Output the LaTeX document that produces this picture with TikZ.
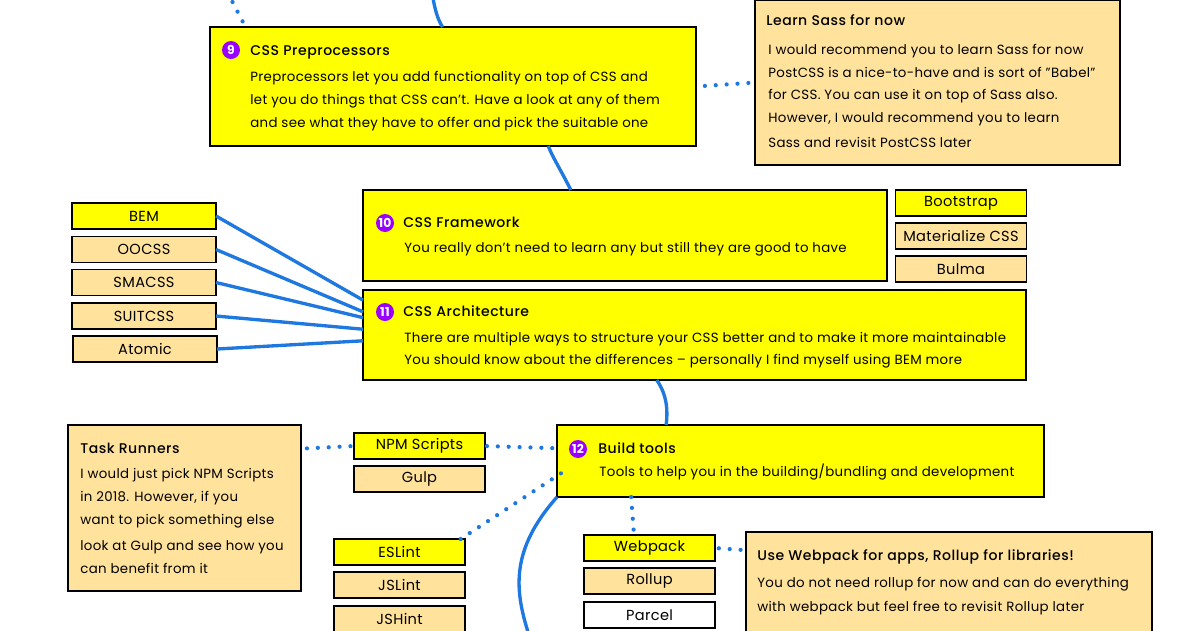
\documentclass[tikz,border=0pt]{standalone}
\usepackage{fontspec}
\setmainfont{Poppins}[LetterSpace=2.4, Ligatures=ResetAll]
\newfontfamily\headfont{Poppins Medium}[LetterSpace=3.6, Ligatures=ResetAll]
\definecolor{boxyellow}{RGB}{255,255,0}
\definecolor{notetan}{HTML}{FFE29B}
\definecolor{linkblue}{HTML}{1F78E0}
\definecolor{badgepurple}{HTML}{9900FF}
\tikzset{
	box/.style={draw=black, line width=1.1pt, inner sep=0pt, outer sep=0pt, fill=#1},
	item/.style={box=#1, minimum width=2.62cm, minimum height=0.52cm, font=\fontsize{8.3}{9}\selectfont},
	badge/.style={circle, fill=badgepurple, text=white, inner sep=0pt, minimum size=0.36cm, font=\fontsize{7}{7}\selectfont\bfseries},
	heading/.style={anchor=base west, inner sep=0pt, font=\headfont\fontsize{8}{9}\selectfont},
	body/.style={anchor=base west, inner sep=0pt, font=\fontsize{7.6}{9}\selectfont},
	link/.style={draw=linkblue, line width=1.9pt},
	dotlink/.style={draw=linkblue, line width=2.4pt, line cap=round, dash pattern=on 0pt off 6.2pt},
}
\begin{document}
\begin{tikzpicture}[x=0.02cm, y=-0.02cm]
	\clip (0,0) rectangle (1200,630);

	% main boxes
	\node[box=boxyellow, minimum width=9.72cm, minimum height=2.38cm] (prep) at (453,86.5) {};
	\node[box=boxyellow, minimum width=10.48cm, minimum height=1.82cm] (frame) at (625,235.5) {};
	\node[box=boxyellow, minimum width=13.26cm, minimum height=1.8cm] (arch) at (694.5,335) {};
	\node[box=boxyellow, minimum width=9.74cm, minimum height=1.44cm] (build) at (800.5,461) {};

	% notes
	\node[box=notetan, minimum width=7.3cm, minimum height=3.3cm] (sass) at (937.5,82.5) {};
	\node[box=notetan, minimum width=4.66cm, minimum height=3.32cm] (runners) at (184.5,508) {};
	\node[box=notetan, minimum width=8.12cm, minimum height=2.16cm] (usewebpack) at (949,586) {};

	% small items
	\foreach \name/\cx/\cy/\col/\txt in {
		bootstrap/961/203/boxyellow/Bootstrap, materialize/961/236/notetan/Materialize CSS, bulma/961/269/notetan/Bulma,
		npm/419.5/446/boxyellow/NPM Scripts, gulp/419.5/479/notetan/Gulp,
		eslint/399.5/552/boxyellow/ESLint, jslint/399.5/585/notetan/JSLint, jshint/399.5/619/notetan/JSHint,
		webpack/649.5/548/boxyellow/Webpack, rollup/649.5/581/notetan/Rollup, parcel/649.5/615/white/Parcel
	} {
		\node[item=\col] (\name) at (\cx,\cy) {\txt};
	}
	\foreach \name/\cx/\cy/\col/\txt in {
		bem/144/216/boxyellow/BEM, oocss/144/249.5/notetan/OOCSS, smacss/144/282.5/notetan/SMACSS,
		suitcss/144/316/notetan/SUITCSS, atomic/145/349/notetan/Atomic
	} {
		\node[item=\col, minimum width=2.88cm] (\name) at (\cx,\cy) {\txt};
	}

	% badges
	\node[badge] (nine) at (231,50) {9};
	\node[badge] (ten) at (385,223) {10};
	\node[badge] (eleven) at (385,312) {11};
	\node[badge] (twelve) at (578,449) {12};

	% headings
	\node[heading] (prephead) at (250,55) {CSS Preprocessors};
	\node[heading] (framehead) at (403,227) {CSS Framework};
	\node[heading] (archhead) at (403,316) {CSS Architecture};
	\node[heading] (buildhead) at (598,453) {Build tools};
	\node[heading] (sasshead) at (766,25) {Learn Sass for now};
	\node[heading] (runnershead) at (80,453) {Task Runners};
	\node[heading] (webpackhead) at (757,560) {Use Webpack for apps, Rollup for libraries!};

	% body lines
	\foreach \y/\txt [count=\i] in {
		81/Preprocessors let you add functionality on top of CSS and,
		104/let you do things that CSS can't. Have a look at any of them,
		127/and see what they have to offer and pick the suitable one
	} {
		\node[body] (prepline\i) at (250,\y) {\txt};
	}
	\node[body] (frameline) at (404,252) {You really don't need to learn any but still they are good to have};
	\node[body] (archlinea) at (404,342) {There are multiple ways to structure your CSS better and to make it more maintainable};
	\node[body] (archlineb) at (404,364) {You should know about the differences – personally I find myself using BEM more};
	\node[body] (buildline) at (599,476) {Tools to help you in the building/bundling and development};
	\foreach \y/\txt [count=\i] in {
		54/I would recommend you to learn Sass for now,
		77/PostCSS is a nice-to-have and is sort of "Babel",
		99/{for CSS. You can use it on top of Sass also.},
		122/{However, I would recommend you to learn},
		147/Sass and revisit PostCSS later
	} {
		\node[body] (sassline\i) at (768,\y) {\txt};
	}
	\foreach \y/\txt [count=\i] in {
		478/I would just pick NPM Scripts,
		501/{in 2018. However, if you},
		524/want to pick something else,
		550/look at Gulp and see how you,
		573/can benefit from it
	} {
		\node[body] (runnersline\i) at (80,\y) {\txt};
	}
	\node[body] (webpacklinea) at (757,587) {You do not need rollup for now and can do everything};
	\node[body] (webpacklineb) at (757,611) {with webpack but feel free to revisit Rollup later};

	% free ends
	\coordinate (topdots) at (232.5,2);
	\coordinate (topcurve) at (433,-2);
	\coordinate (bottomcurve) at (528,632);
	\coordinate (buildin) at (566,470);

	% solid links
	\draw[link] (topcurve) .. controls (435,10) and (438,20) .. (prep.100.5);
	\draw[link] (prep.-32.9) .. controls (553,158) and (563,174) .. (frame.140.9);
	\draw[link] (arch.230.96) .. controls (667,395) and (668,410) .. (build.165.54);
	\draw[link] (build.south west) .. controls (510,550) and (515,590) .. (bottomcurve);
	\draw[link] (bem.east) -- (arch.174.8);
	\draw[link] (oocss.east) -- (arch.176.2);
	\draw[link] (smacss.east) -- (arch.177.9);
	\draw[link] (suitcss.east) -- (arch.179.65);
	\draw[link] (atomic.east) -- (arch.181.2);

	% dotted links
	\draw[dotlink] (topdots) -- (prep.164.46);
	\draw[dotlink, dash phase=1.1pt] (prep.east) -- (sass.west);
	\draw[dotlink, dash phase=2.8pt] (runners.27.6) -- (npm.west);
	\draw[dotlink, dash phase=5.1pt] (npm.east) -- (build.177.4);
	\draw[dotlink] (eslint.12.7) -- (buildin);
	\draw[dotlink] (build.192.2) -- (webpack.140);
	\draw[dotlink, dash phase=4pt] (webpack.east) -- (usewebpack.170.5);
\end{tikzpicture}
\end{document}
